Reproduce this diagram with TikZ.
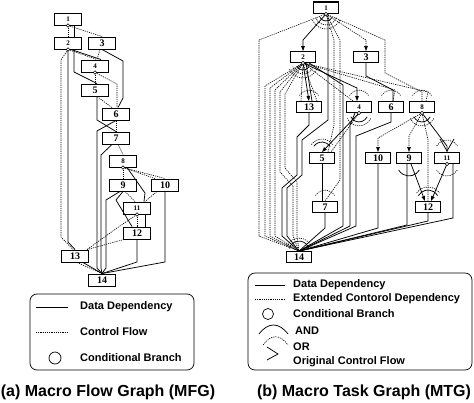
\documentclass[tikz,border=0pt]{standalone}
\usepackage{fontspec}
\setmainfont{Liberation Serif}
\setsansfont{Liberation Sans}
\usetikzlibrary{arrows.meta}
\newcommand{\myarc}[5]{\draw[#1] (#2) ++(#4:#3) arc[start angle=#4,end angle=#5,radius=#3];}
\begin{document}
\begin{tikzpicture}[x=1pt,y=-1pt,
  box/.style={draw,line width=0.9pt,minimum width=27pt,minimum height=12pt,inner sep=0pt,font=\bfseries\fontsize{10}{10}\selectfont},
  sbox/.style={box,font=\bfseries\fontsize{7}{7}\selectfont},
  mbox/.style={box,minimum width=25pt,minimum height=11pt},
  msbox/.style={mbox,font=\bfseries\fontsize{7}{7}\selectfont},
  data/.style={line width=0.75pt},
  ctrl/.style={line width=0.6pt,dash pattern=on 1.2pt off 1pt},
  arr/.style={-{Triangle[length=5pt,width=3.5pt]}},
  cb/.style={circle,draw,fill=white,line width=0.6pt,inner sep=0pt,minimum size=3.5pt},
  leg/.style={font=\sffamily\bfseries\fontsize{11}{12}\selectfont,anchor=west,inner sep=0pt},
  captext/.style={font=\sffamily\bfseries\fontsize{16}{18}\selectfont,inner sep=0pt},
]
\useasboundingbox (0,0) rectangle (474,402);

% ---------------- (a) MFG ----------------
\node[sbox] (a1) at (68,19) {1};
\node[sbox] (a2) at (68,43) {2};
\node[box] (a3) at (102,43) {3};
\node[sbox] (a4) at (95,66) {4};
\node[box] (a5) at (95,90) {5};
\node[box] (a6) at (116,114) {6};
\node[box] (a7) at (116,138) {7};
\node[sbox] (a8) at (123,161) {8};
\node[box] (a9) at (123,185) {9};
\node[box] (a10) at (165,185) {10};
\node[sbox] (a11) at (137,208) {11};
\node[box] (a12) at (137,233) {12};
\node[box] (a13) at (75,256) {13};
\node[box] (a14) at (102,280) {14};

\draw[ctrl] (a1.south) -- (a2.north);
\draw[data] ([xshift=6]a1.south) -- ([xshift=6]a2.north);
\draw[ctrl] (a1.south) -- (a3.north);
\draw[ctrl] (a2.south) -- ([xshift=2]a4.north);
\draw[data] ([xshift=3]a2.south) -- ([xshift=6]a4.north);
\draw[data] ([xshift=6]a2.south) -- (74,72) -- ([xshift=2]a5.north);
\draw[ctrl] (a2.south) -- (61,60) -- (61,237) -- ([xshift=-2]a13.north);
\draw[data] (a2.south) -- (68,242) -- (a13.north);
\draw[data] (a3.south) -- (123,61) -- (123,98) -- ([xshift=2]a6.north);
\draw[ctrl] ([xshift=-2]a3.south) -- ([xshift=2]a4.north);
\draw[ctrl] (a4.south) -- (a5.north);
\draw[ctrl] (a4.south) -- (117,84) -- ([xshift=1]a6.north);
\draw[ctrl] ([xshift=2]a5.south) -- ([xshift=-4]a6.north);
\draw[data] ([xshift=2]a5.south) -- (97,120) -- (a7.north);
\draw[data] (a6.south) -- (97,131) -- (97,268) -- (a14.north);
\draw[ctrl] (a6.south) -- (a7.north);
\draw[data] ([xshift=-4]a7.south) -- (101,155) -- (101,268) -- (a14.north);
\draw[ctrl] ([xshift=2]a7.south) -- (a8.north);
\draw[ctrl] (a8.south) -- (a9.north);
\draw[ctrl] (a8.south) -- (a10.north);
\draw[ctrl] (a8.south) -- ([xshift=-10]a10.north);
\draw[data] ([xshift=4]a8.south) -- (145,193) -- ([xshift=7]a11.north);
\draw[ctrl] ([xshift=2]a9.south) -- ([xshift=-2]a11.north);
\draw[ctrl] ([xshift=-8]a10.south) -- ([xshift=8]a11.north);
\draw[data] (a9.south) -- (116,200) -- ([xshift=-5]a12.north);
\draw[data] ([xshift=-3]a9.south) -- (106,200) -- (106,268) -- (a14.north);
\draw[ctrl] (a11.south) -- (a12.north);
\draw[data] ([xshift=8]a11.south) -- ([xshift=8]a12.north);
\draw[ctrl] (a11.south) -- (117,228) -- ([xshift=12]a13.north);
\draw[ctrl] ([xshift=-13]a12.south) -- ([xshift=12]a13.north);
\draw[data] (a12.south) -- (137,262) -- (a14.north);
\draw[data] (a10.south) -- (165,262) -- (a14.north);
\draw[ctrl] ([xshift=2]a13.south) -- (a14.north);
\draw[data] ([xshift=8]a13.south) -- (a14.north);

% legend (a)
\draw[line width=0.7pt,rounded corners=7pt] (30,294) rectangle (194,370);
\coordinate (la1) at (36,307); \coordinate (la2) at (68,307);
\draw[data] (la1) -- (la2);
\node[leg] (ta1) at (80,307) {Data Dependency};
\coordinate (la3) at (36,332); \coordinate (la4) at (68,332);
\draw[ctrl] (la3) -- (la4);
\node[leg] (ta2) at (80,332) {Control Flow};
\node[circle,draw,minimum size=12pt,inner sep=0pt,line width=0.7pt] (lc1) at (55,358) {};
\node[leg] (ta3) at (80,358) {Conditional Branch};
\node[captext] (capa) at (108,392) {(a) Macro Flow Graph (MFG)};

% ---------------- (b) MTG ----------------
\node[msbox] (m1) at (326,8) {1};
\node[msbox] (m2) at (303,57) {2};
\node[mbox] (m3) at (366,57) {3};
\node[mbox] (m13) at (309,107) {13};
\node[msbox] (m4) at (359,107) {4};
\node[mbox] (m6) at (391,107) {6};
\node[msbox] (m8) at (422,107) {8};
\node[mbox] (m5) at (322,158) {5};
\node[mbox] (m10) at (378,158) {10};
\node[mbox] (m9) at (409,158) {9};
\node[msbox] (m11) at (447,158) {11};
\node[mbox] (m7) at (325,207) {7};
\node[mbox] (m12) at (428,207) {12};
\node[mbox] (m14) at (299,257) {14};
\draw[line width=1.6pt] (m1.north west) -- (m1.north east);

% from 1
\draw[data,arr] (m1.south) -- (303,40) -- (m2.north);
\draw[ctrl,arr] (m1.south) -- (366,40) -- (m3.north);
\draw[ctrl] (m1.south) -- (259,40) -- (259,236) -- (m14.north);
\draw[ctrl] (m1.south) -- (385,40) -- (385,73) -- (422,92) -- (m8.north);
\draw[data] ([xshift=2]m1.south) -- (328,120) -- (302,140) -- (302,175) -- (287,188) -- (287,236) -- (m14.north);
\draw[ctrl] (m1.south) -- (334,40) -- (334,125) -- ([xshift=6]m5.north);
\draw[ctrl] (m1.south) -- (340,40) -- (340,180) -- (m7.north);
% from 2
\draw[ctrl] (m2.south) -- (265,86) -- (265,236) -- (m14.north);
\draw[ctrl] (m2.south) -- (270,88) -- (270,236) -- (m14.north);
\draw[ctrl] (m2.south) -- (275,90) -- (275,236) -- (m14.north);
\draw[ctrl] (m2.south) -- (280,92) -- (280,172) -- (293,186) -- (293,236) -- (m14.north);
\draw[ctrl] (m2.south) -- (285,94) -- (285,168) -- (297,182) -- (297,236) -- (m14.north);
\draw[data,arr] (m2.south) -- (m13.north);
\draw[data] ([xshift=3]m2.south) -- ([xshift=3]m13.north);
\draw[ctrl] (m2.south) -- ([xshift=-8]m13.north);
\draw[ctrl] (m2.south) -- ([xshift=8]m13.north);
\draw[data,arr] (m2.south) -- (357,88) -- ([xshift=-2]m4.north);
\draw[ctrl] (m2.south) -- ([xshift=-6]m4.north);
\draw[ctrl] (m2.south) -- (395,90) -- ([xshift=2]m6.north);
\draw[ctrl] (m2.south) -- (428,92) -- ([xshift=4]m8.north);
\draw[data] ([xshift=6]m2.south) -- (343,85) -- (343,226) -- (m14.north);
% from 3
\draw[data] (m3.south) -- (366,76) -- (393,90) -- ([xshift=2]m6.north);
% from 13
\draw[data] (m13.south) -- (309,125) -- (297,137) -- (297,175) -- (282,188) -- (282,236) -- (m14.north);
% from 4
\draw[data,arr] (m4.south) -- (m5.north);
\draw[ctrl] (m4.south) -- ([xshift=9]m5.north);
\draw[data] ([xshift=-4]m4.south) -- (350,125) -- (350,226) -- (m14.north);
% from 6
\draw[data] (m6.south) -- (391,122) -- (356,136) -- (356,226) -- (m14.north);
% from 5, 7, 10
\draw[data] (m5.south) -- (m5.south |- m7.north);
\draw[data] (m7.south) -- (325,228) -- (m14.north);
\draw[data] (m10.south) -- (378,228) -- (m14.north);
% from 8
\draw[ctrl,arr] (m8.south) -- (378,138) -- (m10.north);
\draw[ctrl,arr] (m8.south) -- (409,136) -- (m9.north);
\draw[data] (m8.south) -- (447,146) -- (m11.north);
\draw[ctrl] (m8.south) -- (428,140) -- (m12.north);
\draw[data] (440,139) -- (447,151) -- (454,139);
% from 9, 11, 12
\draw[data] ([xshift=-2]m9.south) -- (407,225) -- (m14.north);
\draw[data,arr] ([xshift=2]m9.south) -- ([xshift=-3]m12.north);
\draw[data,arr] (m11.south) -- ([xshift=3]m12.north);
\draw[data] ([xshift=6]m11.south) -- (453,218) -- (m14.north);
\draw[data] (m12.south) -- (428,221) -- (m14.north);

% AND / OR arcs
\myarc{data}{m1.south}{7}{30}{150}
\myarc{ctrl}{m1.south}{11}{20}{160}
\myarc{ctrl}{m1.south}{15}{25}{155}
\myarc{data}{m2.south}{7}{30}{150}
\myarc{ctrl}{m2.south}{11}{20}{160}
\myarc{ctrl}{m2.south}{15}{25}{155}
\myarc{data}{m4.south}{9}{25}{155}
\myarc{ctrl}{m4.south}{13}{25}{155}
\myarc{data}{m8.south}{9}{25}{155}
\myarc{ctrl}{m8.south}{13}{25}{155}
\myarc{ctrl}{m13.north}{11}{210}{330}
\myarc{ctrl}{m4.north}{11}{210}{330}
\myarc{ctrl}{m6.north}{11}{210}{330}
\myarc{ctrl}{m8.north}{11}{210}{330}
\myarc{data}{m5.north}{10}{215}{325}
\myarc{ctrl}{m5.north}{13}{215}{325}
\myarc{ctrl}{m7.north}{11}{210}{330}
\myarc{data}{m12.north}{11}{210}{330}
\myarc{ctrl}{m12.north}{14}{215}{325}
\myarc{ctrl}{m11.north}{12}{210}{330}
\myarc{data}{m9.south}{12}{30}{150}
\myarc{ctrl}{m11.south}{12}{30}{150}
\myarc{data}{m14.north}{10}{195}{345}
\myarc{ctrl}{m14.north}{13}{200}{340}

% conditional branch circles
\foreach \n in {a1,a2,a4,a8,a11,m1,m2,m4,m8,m11} \node[cb] (cb\n) at (\n.south) {};

% legend (b)
\draw[line width=0.7pt,rounded corners=7pt] (248,273) rectangle (472,370);
\coordinate (lb1) at (255,285); \coordinate (lb2) at (285,285);
\draw[data] (lb1) -- (lb2);
\node[leg] (tb1) at (293,285) {Data Dependency};
\coordinate (lb3) at (255,299); \coordinate (lb4) at (285,299);
\draw[ctrl] (lb3) -- (lb4);
\node[leg] (tb2) at (293,299) {Extended Contorol Dependency};
\node[circle,draw,minimum size=11pt,inner sep=0pt,line width=0.7pt] (lc2) at (268,314) {};
\node[leg] (tb3) at (293,314) {Conditional Branch};
\draw[data] (259,334) .. controls (268,322) and (279,322) .. (288,334);
\node[leg] (tb4) at (295,331) {AND};
\draw[ctrl] (263,345) .. controls (271,334) and (280,334) .. (288,345);
\node[leg] (tb5) at (293,347) {OR};
\draw[data] (267,347) -- (278,354) -- (267,360);
\node[leg] (tb6) at (293,362) {Original Control Flow};
\node[captext] (capb) at (364,392) {(b) Macro Task Graph (MTG)};
\end{tikzpicture}
\end{document}
